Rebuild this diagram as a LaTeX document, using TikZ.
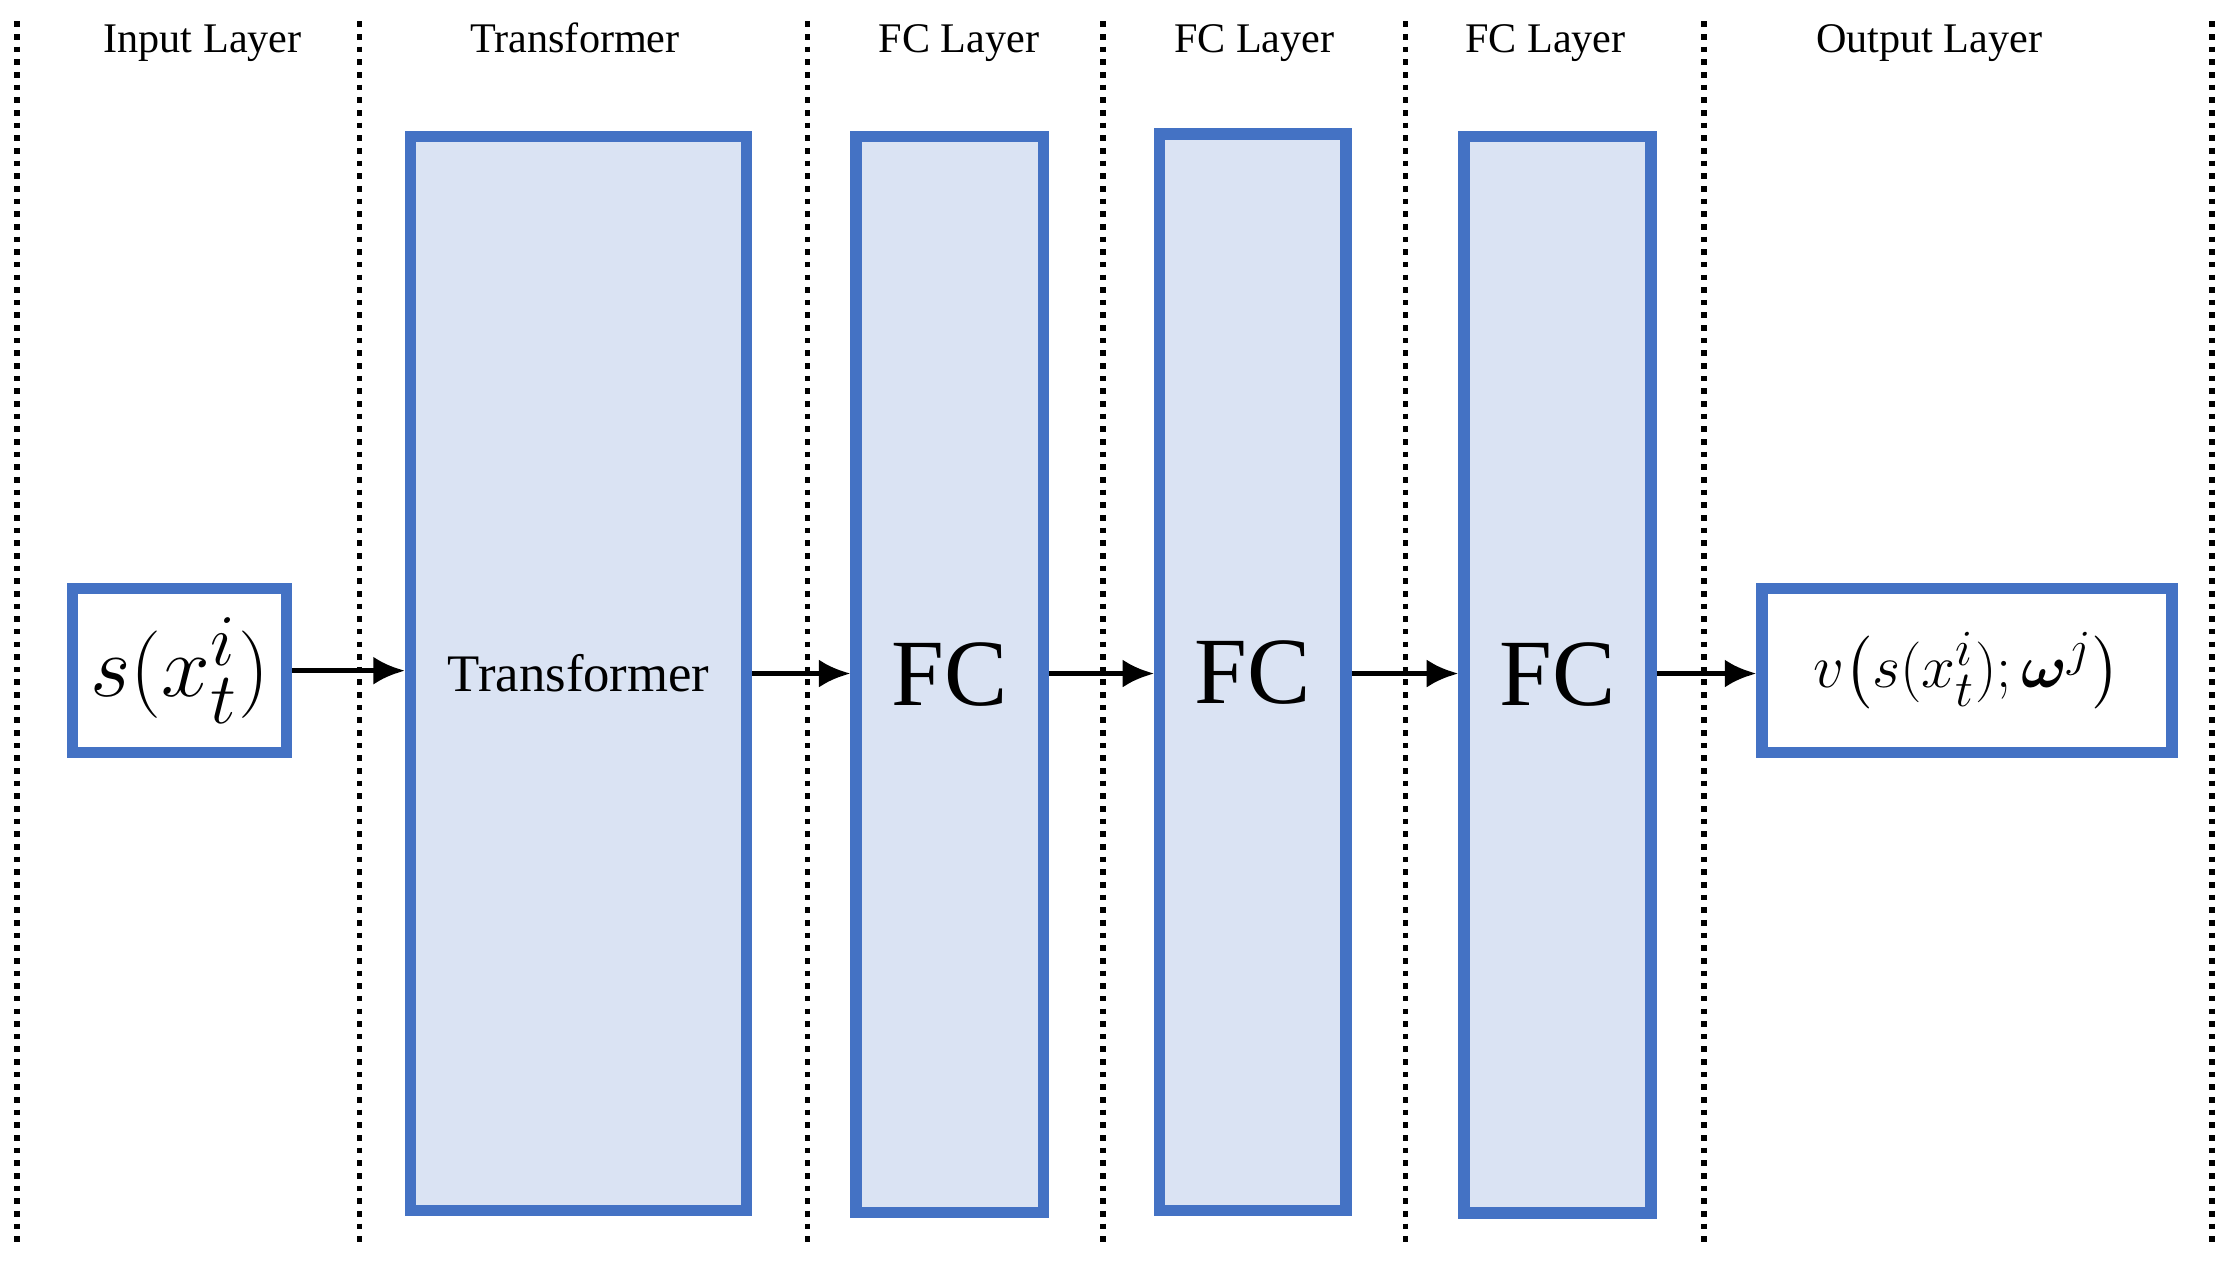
\documentclass[tikz,border=0pt]{standalone}
\usepackage{amsmath}
\usepackage{bm}
\usepackage{fontspec}
\setmainfont{Liberation Serif}
\usetikzlibrary{arrows.meta}
\definecolor{boxblue}{HTML}{4472C4}
\definecolor{boxfill}{HTML}{DAE3F3}
\tikzset{
    layer/.style = {draw = boxblue, fill = boxfill, line width = 3.2pt, inner sep = 0pt},
    io/.style = {draw = boxblue, fill = white, line width = 3.2pt, inner sep = 0pt},
    sep/.style = {line width = 1.6pt, dotted},
    flow/.style = {line width = 1.6pt, -{Latex[length = 9pt, width = 8pt]}},
    head/.style = {font = \fontsize{12}{14}\selectfont, text height = 8pt, text depth = 2.5pt}
}
\begin{document}
\begin{tikzpicture}[x = 0.01427cm, y = -0.01427cm]
    \useasboundingbox (0,0) rectangle (1560,892);
    \foreach \xs in {12, 252, 566, 773, 985, 1194, 1550}
        \draw[sep] (\xs, 15) -- (\xs, 875);
    \node[head] (h1) at (142, 30) {Input Layer};
    \node[head] (h2) at (403, 30) {Transformer};
    \node[head] (h3) at (672, 30) {FC Layer};
    \node[head] (h4) at (879, 30) {FC Layer};
    \node[head] (h5) at (1083, 30) {FC Layer};
    \node[head] (h6) at (1352, 30) {Output Layer};
    \node[io, minimum width = 2.14cm, minimum height = 1.64cm] (in) at (126, 470)
        {\fontsize{28}{30}\selectfont $s(x_t^i)$};
    \node[layer, minimum width = 3.36cm, minimum height = 10.74cm] (tr) at (405.5, 472)
        {\fontsize{15}{17}\selectfont Transformer};
    \node[layer, minimum width = 1.87cm, minimum height = 10.76cm] (fc1) at (665.5, 472.5)
        {\fontsize{27}{30}\selectfont FC};
    \node[layer, minimum width = 1.86cm, minimum height = 10.76cm] (fc2) at (878, 471)
        {\fontsize{27}{30}\selectfont FC};
    \node[layer, minimum width = 1.87cm, minimum height = 10.76cm] (fc3) at (1091.5, 473)
        {\fontsize{27}{30}\selectfont FC};
    \node[io, minimum width = 4.10cm, minimum height = 1.64cm] (out) at (1378.5, 470)
        {\fontsize{19}{21}\selectfont $v\bigl(s(x_t^i);\bm{\omega}^j\bigr)$};
    \draw[flow] (in.east |- 0, 470) -- (tr.west |- 0, 470);
    \draw[flow] (tr.east |- 0, 472) -- (fc1.west |- 0, 472);
    \draw[flow] (fc1.east |- 0, 472) -- (fc2.west |- 0, 472);
    \draw[flow] (fc2.east |- 0, 472) -- (fc3.west |- 0, 472);
    \draw[flow] (fc3.east |- 0, 472) -- (out.west |- 0, 472);
\end{tikzpicture}
\end{document}
